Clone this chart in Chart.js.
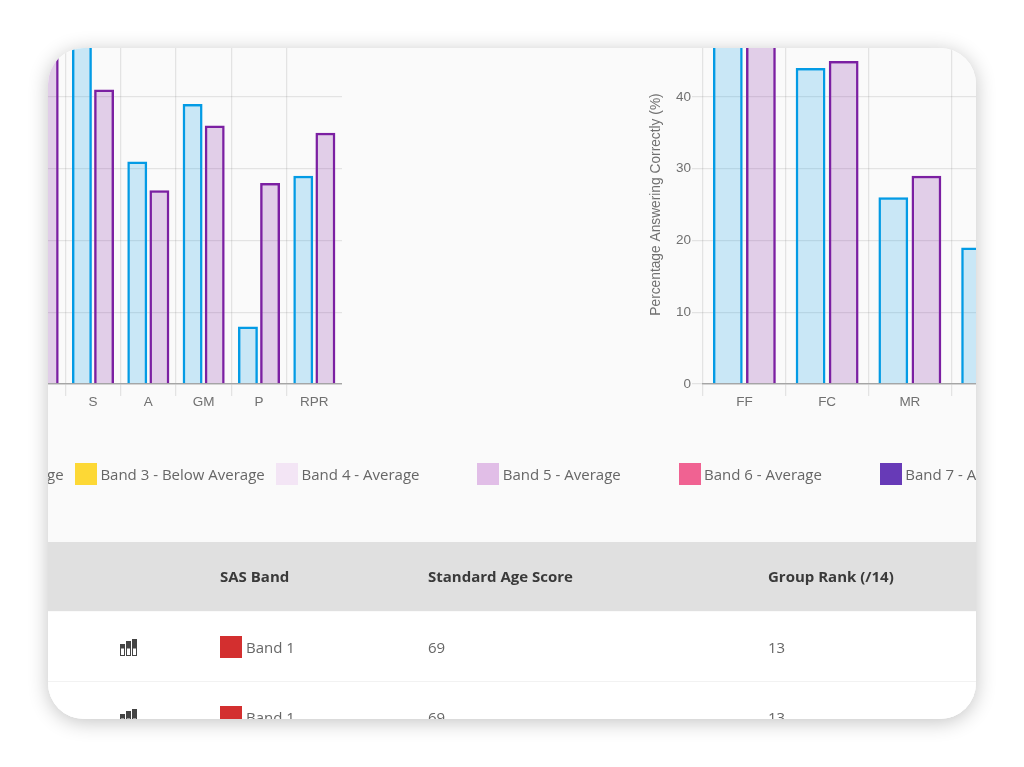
<!DOCTYPE html>
<html>
<head>
<meta charset="utf-8">
<title>Band chart</title>
<script src="https://cdn.jsdelivr.net/npm/chart.js@4"></script>
<style>
html, body { margin: 0; padding: 0; background: #fff; width: 1024px; height: 767px; overflow: hidden; }
#card { position: absolute; left: 48px; top: 48px; width: 928px; height: 671px; background: #fafafa; border-radius: 36px; overflow: hidden; font-family: "Open Sans", sans-serif; filter: blur(0.4px); }
#shadow { position: absolute; left: 48px; top: 48px; width: 928px; height: 671px; border-radius: 36px; box-shadow: 0 3px 20px rgba(0,0,0,.24); }
canvas { position: absolute; }
#leftChart { left: -98px; top: -33px; }
#rightChart { left: 595px; top: -33px; }
.key { position: absolute; top: 415px; height: 22px; white-space: nowrap; font-size: 15px; line-height: 22px; color: #666; }
.key i, .band i { position: absolute; left: 0; width: 22px; height: 22px; }
.key span { margin-left: 25.5px; }
#thead { position: absolute; left: 0; top: 494px; width: 928px; height: 69px; background: #e0e0e0; }
#thead div { position: absolute; top: 0; line-height: 69px; font-size: 15px; font-weight: 700; color: #3a3a3a; white-space: nowrap; }
.row { position: absolute; left: 0; width: 928px; height: 69px; background: #fff; border-bottom: 1px solid #f2f2f2; font-size: 15px; color: #666; }
.row div { position: absolute; top: 0; line-height: 70px; white-space: nowrap; }
.band i { top: 24px; }
.band span { margin-left: 26px; }
.row svg { position: absolute; left: 72px; top: 27px; }
</style>
</head>
<body>
<div id="shadow"></div>
<div id="card">
  <canvas id="leftChart" width="392" height="405"></canvas>
  <canvas id="rightChart" width="391" height="405"></canvas>
  <div id="legend"></div>
  <div id="thead"></div>
  <div id="rows"></div>
</div>
<script>
const leftCategories = ['', 'S', 'A', 'GM', 'P', 'RPR'];
const leftBlue = [null, 48, 31, 39, 8, 29];
const leftPurple = [48, 41, 27, 36, 28, 35];

const rightCategories = ['FF', 'FC', 'MR', ''];
const rightBlue = [49, 44, 26, 19];
const rightPurple = [48, 45, 29, null];

const bandLabels = ['Band 2 - Below Average', 'Band 3 - Below Average', 'Band 4 - Average', 'Band 5 - Average', 'Band 6 - Average', 'Band 7 - Above Average'];
const bandColours = ['#ef6c00', '#fdd835', '#f3e5f5', '#e1bee7', '#f06292', '#673ab7'];

const tableHeads = ['SAS Band', 'Standard Age Score', 'Group Rank (/14)'];
const tableBands = ['Band 1', 'Band 1'];
const tableScores = [69, 69];
const tableRanks = [13, 13];

const grey = '#707070';
const gridGrey = 'rgba(0,0,0,0.09)';
const chartFont = 'Arial, "Liberation Sans"';

function makeChart(id, categories, blue, purple, showTitle) {
    new Chart(document.getElementById(id), {
        type: 'bar',
        data: {
            labels: categories,
            datasets: [
                { data: blue, backgroundColor: 'rgba(3,155,229,0.2)', borderColor: '#039be5', borderWidth: 2.5 },
                { data: purple, backgroundColor: 'rgba(123,31,162,0.2)', borderColor: '#7b1fa2', borderWidth: 2.5 }
            ]
        },
        options: {
            responsive: false,
            animation: false,
            layout: { autoPadding: false, padding: { top: 10 } },
            plugins: { legend: { display: false }, tooltip: { enabled: false } },
            scales: {
                x: {
                    afterFit: s => { s.height = 36; },
                    // the closing line of the plot has no tick of its own, so no index here
                    grid: { color: c => c.index === undefined ? 'transparent' : gridGrey, tickLength: 12, lineWidth: 1.3 },
                    border: { color: 'rgba(0,0,0,0.28)', width: 1.5 },
                    ticks: { color: grey, padding: -2, maxRotation: 0, font: { family: chartFont, size: 13.5 } }
                },
                y: {
                    min: 0,
                    max: 50,
                    afterFit: s => { s.width = 60; },
                    grid: { color: gridGrey, tickLength: 11, lineWidth: 1.3 },
                    border: { display: false },
                    ticks: { stepSize: 10, color: grey, padding: 1, font: { family: chartFont, size: 13.5 } },
                    title: {
                        display: showTitle,
                        text: 'Percentage Answering Correctly (%)',
                        color: grey,
                        padding: { top: 5, bottom: 0 },
                        font: { family: chartFont, size: 13.75 }
                    }
                }
            }
        }
    });
}

makeChart('leftChart', leftCategories, leftBlue, leftPurple, false);
makeChart('rightChart', rightCategories, rightBlue, rightPurple, true);

// legend, fixed step between the items like the original page
const legend = document.getElementById('legend');
bandLabels.forEach((label, i) => {
    const item = document.createElement('div');
    item.className = 'key';
    item.style.left = (-174.3 + i * 201.2) + 'px';
    item.innerHTML = `<i style="background:${bandColours[i]}"></i><span>${label}</span>`;
    legend.appendChild(item);
});

const colLefts = [172, 380, 720];
const thead = document.getElementById('thead');
tableHeads.forEach((head, i) => {
    const cell = document.createElement('div');
    cell.style.left = colLefts[i] + 'px';
    cell.textContent = head;
    thead.appendChild(cell);
});

const icon = `<svg width="17" height="17" viewBox="0 0 17 17">
  <g fill="#fff" stroke="#444" stroke-width="1"><rect x="0.5" y="9" width="4" height="7.5"/><rect x="6.5" y="9" width="4" height="7.5"/><rect x="12.5" y="9" width="4" height="7.5"/></g>
  <g fill="#444"><rect x="0" y="5" width="5" height="4"/><rect x="6" y="2" width="5" height="7"/><rect x="12" y="0" width="5" height="9"/></g>
</svg>`;
const rows = document.getElementById('rows');
tableBands.forEach((band, i) => {
    const row = document.createElement('div');
    row.className = 'row';
    row.style.top = (564 + i * 70) + 'px';
    row.innerHTML = icon +
        `<div class="band" style="left:${colLefts[0]}px"><i style="background:#d32f2f"></i><span>${band}</span></div>` +
        `<div style="left:${colLefts[1]}px">${tableScores[i]}</div>` +
        `<div style="left:${colLefts[2]}px">${tableRanks[i]}</div>`;
    rows.appendChild(row);
});
</script>
</body>
</html>
